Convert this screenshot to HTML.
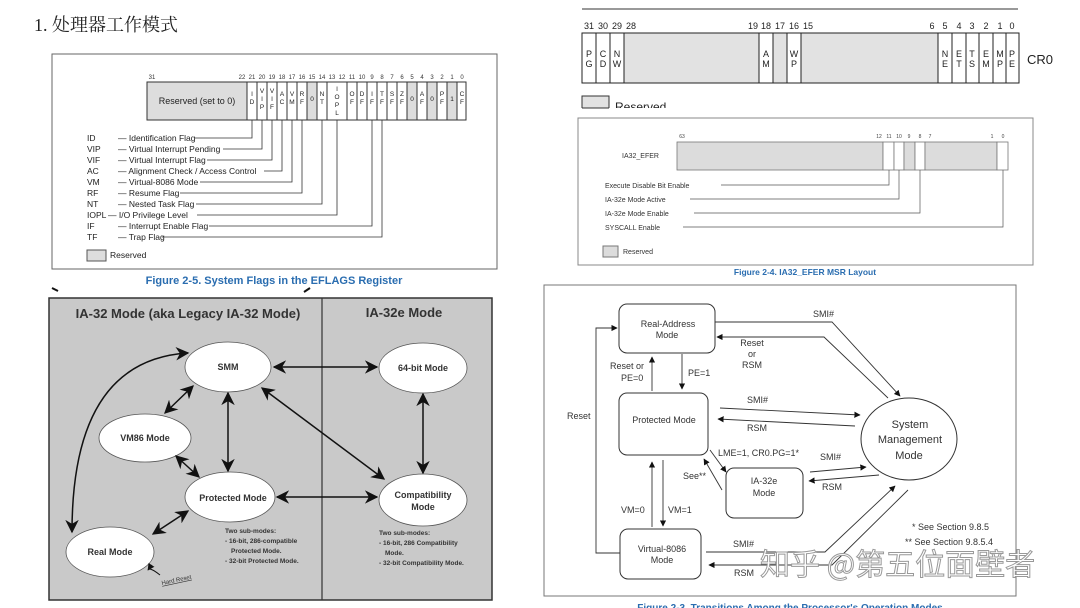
<!DOCTYPE html>
<html><head><meta charset="utf-8"><style>
html,body{margin:0;padding:0;background:#fff;}
svg{display:block;font-family:"Liberation Sans","Noto Sans CJK SC",sans-serif;}
</style></head><body>
<svg width="1080" height="608" viewBox="0 0 1080 608" xmlns="http://www.w3.org/2000/svg">
<defs>
<marker id="a" viewBox="0 0 10 10" refX="9" refY="5" markerWidth="7" markerHeight="7" orient="auto-start-reverse"><path d="M0,0 L10,5 L0,10 z" fill="#111"/></marker>
<marker id="b" viewBox="0 0 10 10" refX="9" refY="5" markerWidth="9" markerHeight="9" orient="auto-start-reverse"><path d="M0,0 L10,5 L0,10 L3,5 z" fill="#111"/></marker>
</defs>
<text x="34" y="31" font-size="18" font-family="Liberation Serif,'Noto Serif CJK SC',serif" fill="#222">1. 处理器工作模式</text>

<!-- EFLAGS -->
<rect x="52" y="54" width="445" height="215" fill="#fff" stroke="#666" stroke-width="1"/>
<g font-size="6" fill="#333" text-anchor="middle">
<text x="152" y="79">31</text>
<text x="242" y="79">22</text><text x="252" y="79">21</text><text x="262" y="79">20</text><text x="272" y="79">19</text><text x="282" y="79">18</text><text x="292" y="79">17</text><text x="302" y="79">16</text><text x="312" y="79">15</text><text x="322" y="79">14</text><text x="332" y="79">13</text><text x="342" y="79">12</text><text x="352" y="79">11</text><text x="362" y="79">10</text><text x="372" y="79">9</text><text x="382" y="79">8</text><text x="392" y="79">7</text><text x="402" y="79">6</text><text x="412" y="79">5</text><text x="422" y="79">4</text><text x="432" y="79">3</text><text x="442" y="79">2</text><text x="452" y="79">1</text><text x="462" y="79">0</text>
</g>
<rect x="147" y="82" width="100" height="38" fill="#ddd" stroke="#333"/>
<text x="197" y="104" font-size="9" text-anchor="middle" fill="#222">Reserved (set to 0)</text>
<g stroke="#333" fill="#fff">
<rect x="247" y="82" width="10" height="38"/><rect x="257" y="82" width="10" height="38"/><rect x="267" y="82" width="10" height="38"/><rect x="277" y="82" width="10" height="38"/><rect x="287" y="82" width="10" height="38"/><rect x="297" y="82" width="10" height="38"/><rect x="307" y="82" width="10" height="38" fill="#ddd"/><rect x="317" y="82" width="10" height="38"/><rect x="327" y="82" width="20" height="38"/><rect x="347" y="82" width="10" height="38"/><rect x="357" y="82" width="10" height="38"/><rect x="367" y="82" width="10" height="38"/><rect x="377" y="82" width="10" height="38"/><rect x="387" y="82" width="10" height="38"/><rect x="397" y="82" width="10" height="38"/><rect x="407" y="82" width="10" height="38" fill="#ddd"/><rect x="417" y="82" width="10" height="38"/><rect x="427" y="82" width="10" height="38" fill="#ddd"/><rect x="437" y="82" width="10" height="38"/><rect x="447" y="82" width="10" height="38" fill="#ddd"/><rect x="457" y="82" width="9" height="38"/>
</g>
<g font-size="6.5" fill="#222" text-anchor="middle">
<text x="252" y="96">I</text><text x="252" y="104">D</text>
<text x="262" y="93">V</text><text x="262" y="101">I</text><text x="262" y="109">P</text>
<text x="272" y="93">V</text><text x="272" y="101">I</text><text x="272" y="109">F</text>
<text x="282" y="96">A</text><text x="282" y="104">C</text>
<text x="292" y="96">V</text><text x="292" y="104">M</text>
<text x="302" y="96">R</text><text x="302" y="104">F</text>
<text x="312" y="101">0</text>
<text x="322" y="96">N</text><text x="322" y="104">T</text>
<text x="337" y="91">I</text><text x="337" y="99">O</text><text x="337" y="107">P</text><text x="337" y="115">L</text>
<text x="352" y="96">O</text><text x="352" y="104">F</text>
<text x="362" y="96">D</text><text x="362" y="104">F</text>
<text x="372" y="96">I</text><text x="372" y="104">F</text>
<text x="382" y="96">T</text><text x="382" y="104">F</text>
<text x="392" y="96">S</text><text x="392" y="104">F</text>
<text x="402" y="96">Z</text><text x="402" y="104">F</text>
<text x="412" y="101">0</text>
<text x="422" y="96">A</text><text x="422" y="104">F</text>
<text x="432" y="101">0</text>
<text x="442" y="96">P</text><text x="442" y="104">F</text>
<text x="452" y="101">1</text>
<text x="462" y="96">C</text><text x="462" y="104">F</text>
</g>
<g font-size="8.5" fill="#222">
<text x="87" y="141">ID</text><text x="118" y="141">— Identification Flag</text>
<text x="87" y="152">VIP</text><text x="118" y="152">— Virtual Interrupt Pending</text>
<text x="87" y="163">VIF</text><text x="118" y="163">— Virtual Interrupt Flag</text>
<text x="87" y="174">AC</text><text x="118" y="174">— Alignment Check / Access Control</text>
<text x="87" y="185">VM</text><text x="118" y="185">— Virtual-8086 Mode</text>
<text x="87" y="196">RF</text><text x="118" y="196">— Resume Flag</text>
<text x="87" y="207">NT</text><text x="118" y="207">— Nested Task Flag</text>
<text x="87" y="218">IOPL</text><text x="108" y="218">— I/O Privilege Level</text>
<text x="87" y="229">IF</text><text x="118" y="229">— Interrupt Enable Flag</text>
<text x="87" y="240">TF</text><text x="118" y="240">— Trap Flag</text>
<text x="110" y="258">Reserved</text>
</g>
<rect x="87" y="250" width="19" height="11" fill="#ddd" stroke="#555"/>
<g stroke="#333" fill="none" stroke-width="0.8">
<path d="M195,138 H252 V120"/><path d="M223,149 H262 V120"/><path d="M207,160 H272 V120"/><path d="M264,171 H282 V120"/><path d="M200,182 H292 V120"/><path d="M180,193 H302 V120"/><path d="M196,204 H322 V120"/><path d="M197,215 H337 V120"/><path d="M209,226 H372 V120"/><path d="M162,237 H382 V120"/>
</g>
<text x="274" y="284" font-size="11" font-weight="bold" fill="#2a6db0" text-anchor="middle">Figure 2-5.  System Flags in the EFLAGS Register</text>

<!-- Modes panel -->
<rect x="49" y="298" width="443" height="302" fill="#c9c9c9" stroke="#333" stroke-width="1.5"/>
<line x1="322" y1="298" x2="322" y2="600" stroke="#333" stroke-width="1.2"/>
<text x="188" y="318" font-size="13" font-weight="bold" fill="#333" text-anchor="middle">IA-32 Mode (aka Legacy IA-32 Mode)</text>
<text x="404" y="317" font-size="13" font-weight="bold" fill="#333" text-anchor="middle">IA-32e Mode</text>
<g fill="#fff" stroke="#555" stroke-width="0.8">
<ellipse cx="228" cy="367" rx="43" ry="25"/><ellipse cx="145" cy="438" rx="46" ry="24"/><ellipse cx="230" cy="497" rx="45" ry="25"/><ellipse cx="110" cy="552" rx="44" ry="25"/><ellipse cx="423" cy="368" rx="44" ry="25"/><ellipse cx="423" cy="500" rx="44" ry="26"/>
</g>
<g font-size="9" font-weight="bold" fill="#333" text-anchor="middle">
<text x="228" y="370">SMM</text><text x="145" y="441">VM86 Mode</text><text x="233" y="501">Protected Mode</text><text x="110" y="555">Real Mode</text><text x="423" y="371">64-bit Mode</text><text x="423" y="498">Compatibility</text><text x="423" y="510">Mode</text>
</g>
<g stroke="#111" stroke-width="1.5" fill="none" marker-start="url(#b)" marker-end="url(#b)">
<line x1="274" y1="367" x2="377" y2="367"/><line x1="228" y1="393" x2="228" y2="471"/><line x1="262" y1="388" x2="384" y2="479"/><line x1="165" y1="413" x2="193" y2="386"/><line x1="176" y1="456" x2="199" y2="477"/><line x1="153" y1="534" x2="188" y2="511"/><line x1="277" y1="497" x2="377" y2="497"/><line x1="423" y1="394" x2="423" y2="473"/>
<path d="M72,532 Q72,360 188,353"/>
</g>
<path d="M160,575 Q150,567 148,570" stroke="#111" fill="none" marker-end="url(#a)"/>
<text x="162" y="585" font-size="6" fill="#333" transform="rotate(-12 162 585)" text-decoration="underline">Hard Reset</text>
<g font-size="6.5" font-weight="bold" fill="#333">
<text x="225" y="533">Two sub-modes:</text><text x="225" y="543">- 16-bit, 286-compatible</text><text x="231" y="553">Protected Mode.</text><text x="225" y="563">- 32-bit Protected Mode.</text>
<text x="379" y="535">Two sub-modes:</text><text x="379" y="545">- 16-bit, 286 Compatibility</text><text x="385" y="555">Mode.</text><text x="379" y="565">- 32-bit Compatibility Mode.</text>
</g>
<path d="M52,288 l6,3 M310,288 l-6,4" stroke="#111" stroke-width="2"/>

<!-- CR0 -->
<line x1="582" y1="9" x2="1018" y2="9" stroke="#333"/>
<g font-size="9" fill="#222" text-anchor="middle">
<text x="589" y="29">31</text><text x="603" y="29">30</text><text x="617" y="29">29</text><text x="631" y="29">28</text><text x="753" y="29">19</text><text x="766" y="29">18</text><text x="780" y="29">17</text><text x="794" y="29">16</text><text x="808" y="29">15</text><text x="932" y="29">6</text><text x="945" y="29">5</text><text x="959" y="29">4</text><text x="972" y="29">3</text><text x="986" y="29">2</text><text x="1000" y="29">1</text><text x="1012" y="29">0</text>
</g>
<g stroke="#222" fill="#fff" stroke-width="1">
<rect x="582" y="33" width="14" height="50"/><rect x="596" y="33" width="14" height="50"/><rect x="610" y="33" width="14" height="50"/><rect x="624" y="33" width="135" height="50" fill="#e2e2e2"/><rect x="759" y="33" width="14" height="50"/><rect x="773" y="33" width="14" height="50" fill="#e2e2e2"/><rect x="787" y="33" width="14" height="50"/><rect x="801" y="33" width="137" height="50" fill="#e2e2e2"/><rect x="938" y="33" width="14" height="50"/><rect x="952" y="33" width="14" height="50"/><rect x="966" y="33" width="13" height="50"/><rect x="979" y="33" width="14" height="50"/><rect x="993" y="33" width="13" height="50"/><rect x="1006" y="33" width="13" height="50"/>
</g>
<g font-size="9" fill="#222" text-anchor="middle">
<text x="589" y="57">P</text><text x="589" y="67">G</text><text x="603" y="57">C</text><text x="603" y="67">D</text><text x="617" y="57">N</text><text x="617" y="67">W</text><text x="766" y="57">A</text><text x="766" y="67">M</text><text x="794" y="57">W</text><text x="794" y="67">P</text><text x="945" y="57">N</text><text x="945" y="67">E</text><text x="959" y="57">E</text><text x="959" y="67">T</text><text x="972" y="57">T</text><text x="972" y="67">S</text><text x="986" y="57">E</text><text x="986" y="67">M</text><text x="1000" y="57">M</text><text x="1000" y="67">P</text><text x="1012" y="57">P</text><text x="1012" y="67">E</text>
</g>
<text x="1027" y="64" font-size="13" fill="#222">CR0</text>
<rect x="582" y="96" width="27" height="20" fill="#e2e2e2" stroke="#333"/>
<text x="615" y="111" font-size="12" fill="#222">Reserved</text>
<rect x="570" y="108" width="500" height="10" fill="#fff"/>
<line x1="582" y1="108" x2="609" y2="108" stroke="#333"/>

<!-- EFER -->
<rect x="578" y="118" width="455" height="147" fill="#fff" stroke="#888"/>
<g font-size="5" fill="#444" text-anchor="middle"><text x="682" y="138">63</text><text x="879" y="138">12</text><text x="889" y="138">11</text><text x="899" y="138">10</text><text x="909" y="138">9</text><text x="920" y="138">8</text><text x="930" y="138">7</text><text x="992" y="138">1</text><text x="1003" y="138">0</text></g>
<g stroke="#777" fill="#fff" stroke-width="0.8">
<rect x="677" y="142" width="206" height="28" fill="#dcdcdc"/><rect x="883" y="142" width="11" height="28"/><rect x="894" y="142" width="10" height="28"/><rect x="904" y="142" width="11" height="28" fill="#dcdcdc"/><rect x="915" y="142" width="10" height="28"/><rect x="925" y="142" width="72" height="28" fill="#dcdcdc"/><rect x="997" y="142" width="11" height="28"/>
</g>
<text x="622" y="158" font-size="7" fill="#333">IA32_EFER</text>
<g font-size="7" fill="#333">
<text x="605" y="188">Execute Disable Bit Enable</text><text x="605" y="202">IA-32e Mode Active</text><text x="605" y="216">IA-32e Mode Enable</text><text x="605" y="230">SYSCALL Enable</text>
<text x="623" y="254">Reserved</text>
</g>
<g stroke="#555" fill="none" stroke-width="0.7">
<path d="M721,185 H889 V170"/><path d="M690,199 H899 V170"/><path d="M694,213 H920 V170"/><path d="M683,227 H1003 V170"/>
</g>
<rect x="603" y="246" width="15" height="11" fill="#dcdcdc" stroke="#777"/>
<text x="805" y="275" font-size="8.5" font-weight="bold" fill="#2a6db0" text-anchor="middle">Figure 2-4.  IA32_EFER MSR Layout</text>

<!-- Transitions -->
<rect x="544" y="285" width="472" height="311" fill="#fff" stroke="#777"/>
<g fill="#fff" stroke="#333" stroke-width="1">
<rect x="619" y="304" width="96" height="49" rx="8"/><rect x="619" y="393" width="89" height="62" rx="8"/><rect x="726" y="468" width="77" height="50" rx="8"/><rect x="620" y="529" width="81" height="50" rx="8"/>
<ellipse cx="909" cy="439" rx="48" ry="41"/>
</g>
<g font-size="9" fill="#333" text-anchor="middle">
<text x="668" y="327">Real-Address</text><text x="667" y="338">Mode</text>
<text x="664" y="423">Protected Mode</text>
<text x="764" y="484">IA-32e</text><text x="764" y="496">Mode</text>
<text x="662" y="552">Virtual-8086</text><text x="662" y="563">Mode</text>
<text x="910" y="428" font-size="11">System</text><text x="910" y="443" font-size="11">Management</text><text x="909" y="459" font-size="11">Mode</text>
</g>
<g stroke="#333" stroke-width="0.9" fill="none" marker-end="url(#a)">
<path d="M715,322 H832 L900,396"/><path d="M888,398 L824,337 H717"/>
<path d="M620,553 H596 V328 H617"/>
<path d="M652,391 V357"/><path d="M682,354 V389"/>
<path d="M720,408 L860,415"/><path d="M855,426 L718,419"/>
<path d="M710,450 L726,472"/><path d="M722,490 L704,459"/>
<path d="M810,472 L866,467"/><path d="M879,475 L809,481"/>
<path d="M652,527 V462"/><path d="M663,460 V526"/>
<path d="M706,552 H825 L895,486"/><path d="M908,490 L832,565 H709"/>
</g>
<g font-size="9" fill="#333">
<text x="813" y="317">SMI#</text>
<text x="752" y="346" text-anchor="middle">Reset</text><text x="752" y="357" text-anchor="middle">or</text><text x="752" y="368" text-anchor="middle">RSM</text>
<text x="567" y="419">Reset</text>
<text x="610" y="369">Reset or</text><text x="621" y="381">PE=0</text>
<text x="688" y="376">PE=1</text>
<text x="747" y="403">SMI#</text><text x="747" y="431">RSM</text>
<text x="718" y="456">LME=1, CR0.PG=1*</text><text x="820" y="460">SMI#</text>
<text x="683" y="479">See**</text><text x="822" y="490">RSM</text>
<text x="621" y="513">VM=0</text><text x="668" y="513">VM=1</text>
<text x="733" y="547">SMI#</text><text x="734" y="576">RSM</text>
<text x="912" y="530">* See Section 9.8.5</text><text x="905" y="545">** See Section 9.8.5.4</text>
</g>
<text x="790" y="611" font-size="10" font-weight="bold" fill="#2a6db0" text-anchor="middle">Figure 2-3.  Transitions Among the Processor's Operation Modes</text>
<text x="760" y="575" font-size="30" fill="#fff" stroke="#999" stroke-width="1" font-family="'Noto Sans CJK SC',sans-serif">知乎 @第五位面壁者</text>
</svg>
</body></html>
